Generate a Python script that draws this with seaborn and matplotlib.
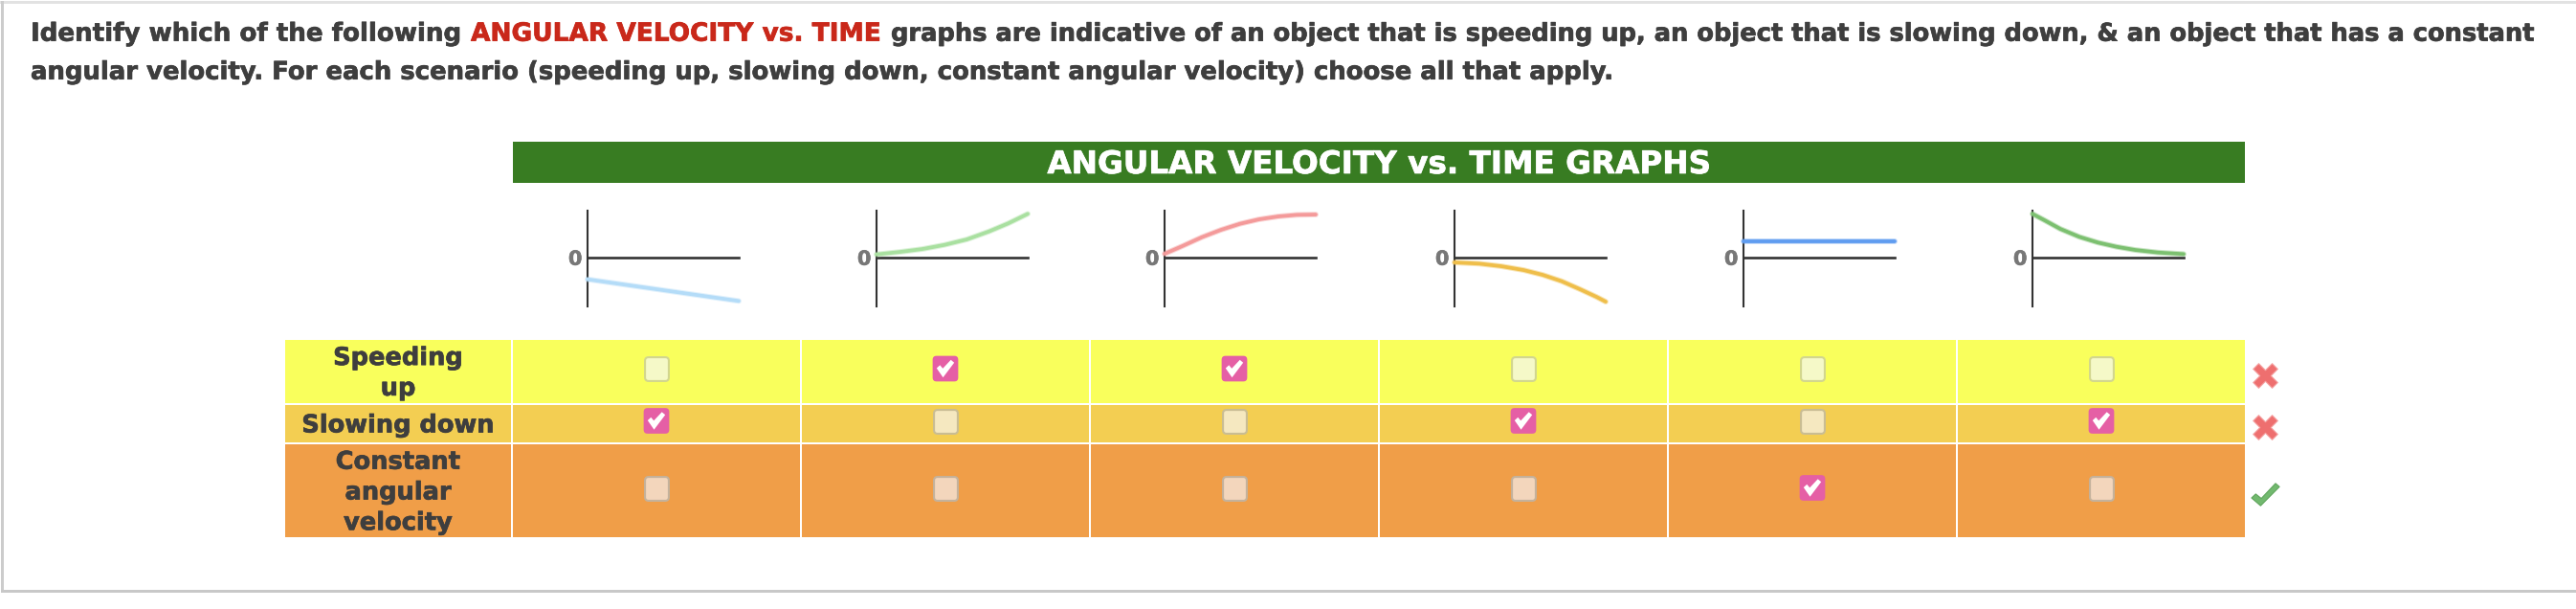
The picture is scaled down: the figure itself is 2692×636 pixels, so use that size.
import numpy as np
import matplotlib
matplotlib.use('Agg')
import matplotlib.pyplot as plt
import matplotlib.patheffects as pe
from matplotlib.colors import ListedColormap
from matplotlib.patches import Rectangle
from matplotlib.path import Path
import pandas as pd
import seaborn as sns

W, H = 2692, 636

# mini graphs, x is 0-1 along the time axis, y is read relative to the zero line
graph_x = [
    [0, 1],
    [0, .157, .304, .451, .597, .744, .870, 1],
    [0, .122, .247, .373, .499, .625, .751, .876, 1],
    [0, .164, .31, .457, .583, .709, .834, .939, 1],
    [0, 1],
    [0, .08, .184, .31, .434, .556, .68, .83, 1],
]
graph_y = [
    [-.46, -.913],
    [.06, .113, .173, .26, .373, .54, .707, .907],
    [.073, .24, .42, .573, .70, .793, .853, .887, .893],
    [-.107, -.133, -.187, -.267, -.367, -.5, -.673, -.827, -.927],
    [.34, .34],
    [.907, .773, .593, .427, .307, .22, .153, .1, .067],
]
graph_colors = ['#b4dcf8', '#a9e0a0', '#f49a9a', '#efbe4a', '#5f9cf0', '#7cc070']

row_labels = ['Speeding\nup', 'Slowing down', 'Constant\nangular\nvelocity']
row_colors = ['#f9ff5c', '#f3ce52', '#f09e48']
box_faces = ['#f5f9c8', '#f5e8c0', '#f3d6bc']
box_edges = ['#d2d68e', '#c9bd94', '#c4b29c']
checked = [
    [0, 1, 1, 0, 0, 0],
    [1, 0, 0, 1, 0, 1],
    [0, 0, 0, 0, 1, 0],
]
row_correct = [False, False, True]

line1_parts = ['Identify which of the following',
               'ANGULAR VELOCITY vs. TIME',
               'graphs are indicative of an object that is speeding up, an object that is slowing down, & an object that has a constant']
line1_colors = ['#3e3e3e', '#c9281a', '#3e3e3e']
line2 = 'angular velocity. For each scenario (speeding up, slowing down, constant angular velocity) choose all that apply.'
header = 'ANGULAR VELOCITY vs. TIME GRAPHS'


def px_axes(fig, left, top, right, bottom):
    return fig.add_axes([left / W, 1 - bottom / H, (right - left) / W, (bottom - top) / H])


def rounded_box(r=.3):
    k = 1 - r
    verts = [(-k, -1), (k, -1), (1, -1), (1, -k), (1, k), (1, 1), (k, 1), (-k, 1),
             (-1, 1), (-1, k), (-1, -k), (-1, -1), (-k, -1), (-k, -1)]
    codes = [Path.MOVETO, Path.LINETO, Path.CURVE3, Path.CURVE3, Path.LINETO, Path.CURVE3, Path.CURVE3,
             Path.LINETO, Path.CURVE3, Path.CURVE3, Path.LINETO, Path.CURVE3, Path.CURVE3, Path.CLOSEPOLY]
    return Path(verts, codes)


def bold(color, width=.5):
    return [pe.withStroke(linewidth=width, foreground=color)]


TICK = Path([(-1, .05), (-.62, .4), (-.3, .02), (.62, 1), (1, .68), (-.27, -1), (-1, .05)], closed=True)
CROSS = Path([(-.55, 1), (0, .45), (.55, 1), (1, .55), (.45, 0), (1, -.55), (.55, -1), (0, -.45),
              (-.55, -1), (-1, -.55), (-.45, 0), (-1, .55), (-.55, 1)], closed=True)
BIG_TICK = Path([(-1, -.24), (-.7, .04), (-.3, -.28), (.72, .8), (1, .56), (-.35, -.8), (-1, -.24)], closed=True)

sns.set_theme(style='white')
plt.rcParams['font.family'] = ['DejaVu Sans']

fig = plt.figure(figsize=(W / 100, H / 100), dpi=100, facecolor='white')

# page frame, header bar and question text
page = fig.add_axes([0, 0, 1, 1], facecolor='none')
page.set_xlim(0, W)
page.set_ylim(H, 0)
page.axis('off')
page.add_patch(Rectangle((0, 1), W, 3, color='#e2e2e2', lw=0))
page.add_patch(Rectangle((1, 1), 3, 616, color='#cccccc', lw=0))
page.add_patch(Rectangle((1, 616), W, 3, color='#c8c8c8', lw=0))
page.add_patch(Rectangle((536, 148), 1810, 43, color='#387c22', lw=0))

# the three runs of the first line are placed on their own, widths differ a little from the browser font
for part, color, x, size in zip(line1_parts, line1_colors, [32, 492, 931], [18.8, 19, 18.52]):
    page.text(x, 42.7, part, fontsize=size, fontweight='bold', color=color, va='baseline',
              path_effects=bold(color))
page.text(32, 82.7, line2, fontsize=18.65, fontweight='bold', color='#3e3e3e', va='baseline',
          path_effects=bold('#3e3e3e'))
page.text(1441, 181, header, fontsize=23.5, fontweight='bold', color='white', ha='center', va='baseline',
          path_effects=bold('white'))

# mini graphs
graph_left = [614, 916, 1217, 1520, 1822, 2124]
for left, gx, gy, color in zip(graph_left, graph_x, graph_y, graph_colors):
    ax = px_axes(fig, left, 220, left + 158, 320)
    ax.patch.set_alpha(0)
    sns.lineplot(x=gx, y=gy, color=color, linewidth=2.7, ax=ax, clip_on=False, zorder=3,
                 path_effects=[pe.withStroke(linewidth=4.2, foreground=color, alpha=.4)])
    ax.set_xlim(0, 1)
    ax.set_ylim(-1.026, .974)
    for side in ['top', 'right']:
        ax.spines[side].set_visible(False)
    ax.spines['bottom'].set_position(('data', 0))
    ax.spines['bottom'].set_color('#333333')
    ax.spines['bottom'].set_linewidth(1.9)
    ax.spines['left'].set_color('#333333')
    ax.spines['left'].set_linewidth(1.5)
    ax.set_xticks([])
    ax.set_yticks([0])
    ax.set_yticklabels(['0'], fontsize=15, fontweight='bold', color='#777777',
                       path_effects=bold('#777777', .4))
    ax.tick_params(axis='y', length=0, pad=4)

# answer table, one heatmap strip per row
row_tops = [354, 422, 463]
row_bottoms = [422, 463, 562]
for i, label in enumerate(row_labels):
    top, bottom = row_tops[i], row_bottoms[i]
    rh = bottom - top
    cmap = ListedColormap([row_colors[i], row_colors[i]])

    lab_ax = px_axes(fig, 297, top, 535, bottom)
    sns.heatmap([[0]], cmap=cmap, vmin=0, vmax=1, cbar=False, linewidths=1.4, linecolor='white',
                xticklabels=False, yticklabels=False, ax=lab_ax)
    lab_ax.text(.5, .5 - 2 / rh, label, ha='center', va='center', fontsize=18.5, fontweight='bold',
                color='#3e3e3e', linespacing=1.29, transform=lab_ax.transAxes, path_effects=bold('#3e3e3e'))

    ax = px_axes(fig, 535, top, 2347, bottom)
    sns.heatmap(np.array([checked[i]]), cmap=cmap, vmin=0, vmax=1, cbar=False, linewidths=1.4, linecolor='white',
                xticklabels=False, yticklabels=False, ax=ax)

    row = pd.DataFrame({'col': np.arange(6) + .5, 'on': checked[i]})
    box_y = .5 - 3 / rh
    off = row[row['on'] == 0]
    on = row[row['on'] == 1]
    sns.scatterplot(x=off['col'].to_numpy(), y=[box_y] * len(off), marker=rounded_box(), s=320,
                    color=box_faces[i], edgecolor=box_edges[i], linewidth=1.5, ax=ax, zorder=3)
    sns.scatterplot(x=on['col'].to_numpy(), y=[box_y] * len(on), marker=rounded_box(), s=370,
                    color='#e55fa5', edgecolor='none', linewidth=0, ax=ax, zorder=3)
    sns.scatterplot(x=on['col'].to_numpy(), y=[box_y] * len(on), marker=TICK, s=175,
                    color='white', edgecolor='none', linewidth=0, ax=ax, zorder=4)

    # grading mark to the right of the row
    mark_y = .5 + 3.5 / rh
    if row_correct[i]:
        sns.scatterplot(x=[6.066], y=[mark_y], marker=BIG_TICK, s=440, color='#72b96f', edgecolor='#5fa55c',
                        linewidth=.8, ax=ax, clip_on=False, zorder=5)
    else:
        sns.scatterplot(x=[6.066], y=[mark_y], marker=CROSS, s=340, color='#ee6f6f', edgecolor='#f5a5a5',
                        linewidth=.8, ax=ax, clip_on=False, zorder=5)
    ax.set_xlim(0, 6)
    ax.set_ylim(1, 0)
    ax.set(xlabel='', ylabel='')

fig.savefig('out.png', dpi=100)
